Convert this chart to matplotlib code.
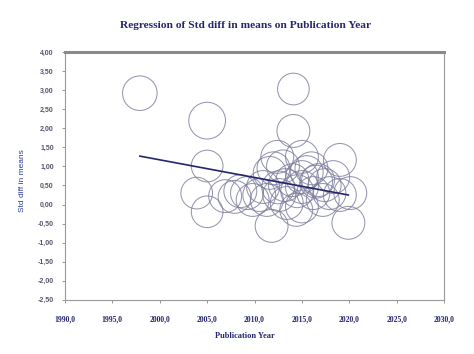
import matplotlib
matplotlib.use("Agg")
import matplotlib.pyplot as plt
from matplotlib.ticker import FuncFormatter

# study points: publication year, std diff in means, weight (bubble size)
years = [1997.9, 2005.0, 2005.0, 2003.9, 2005.0, 2007.9, 2009.2, 2009.8,
         2011.3, 2011.8, 2012.4, 2011.6, 2014.1, 2014.1, 2015.0, 2019.0,
         2018.3, 2020.1, 2019.9, 2015.0, 2015.0, 2016.2, 2010.9, 2013.4,
         2017.2, 2013.2, 2014.0, 2016.7, 2006.9, 2014.4, 2017.4, 2019.0,
         2012.6, 2016.0, 2012.0, 2013.0, 2015.5, 2016.5, 2012.5, 2014.5,
         2010.5, 2008.5, 2017.9, 2015.0]
effects = [2.92, 2.20, 1.01, 0.30, -0.19, 0.20, 0.30, 0.12,
           0.12, -0.56, 1.25, 0.83, 3.03, 1.93, 1.25, 1.17,
           0.72, 0.30, -0.48, 0.72, 0.46, 0.30, 0.46, 0.04,
           0.12, 0.51, 0.64, 0.64, 0.22, -0.14, 0.51, 0.25,
           0.25, 0.95, 0.95, 1.00, 0.85, 0.60, 0.45, 0.35,
           0.25, 0.35, 0.30, -0.05]
weights = [620, 700, 520, 520, 520, 560, 560, 560,
           560, 560, 560, 560, 520, 560, 560, 560,
           560, 560, 560, 560, 560, 560, 560, 560,
           560, 560, 560, 560, 560, 560, 560, 560,
           560, 560, 560, 560, 560, 560, 560, 560,
           560, 560, 560, 560]

# fitted regression line end points
reg_years = [1997.9, 2019.9]
reg_effects = [1.27, 0.25]

navy = "#25256e"
circ = "#7c7c9c"

fig = plt.figure(figsize=(4.74, 3.54), dpi=100)
ax = fig.add_axes([0.137, 0.153, 0.800, 0.700])

ax.scatter(years, effects, s=weights, facecolors="none", edgecolors=circ,
           linewidths=0.75, alpha=0.8)
ax.plot(reg_years, reg_effects, color=navy, linewidth=1.2)

ax.set_xlim(1990, 2030)
ax.set_ylim(-2.5, 4.0)
ax.set_xticks(range(1990, 2031, 5))
ax.set_yticks([v / 2 for v in range(-5, 9)])
comma = FuncFormatter(lambda v, p: f"{v:.2f}".replace(".", ","))
ax.yaxis.set_major_formatter(comma)
ax.xaxis.set_major_formatter(FuncFormatter(lambda v, p: f"{v:.1f}".replace(".", ",")))

for lab in ax.get_xticklabels():
    lab.set_fontfamily("Liberation Serif")
    lab.set_fontweight("bold")
    lab.set_fontsize(5.5)
    lab.set_color(navy)
for lab in ax.get_yticklabels():
    lab.set_fontfamily("Liberation Sans")
    lab.set_fontweight("bold")
    lab.set_fontsize(5)
    lab.set_color("#555570")

ax.tick_params(axis="both", length=2, width=0.6, color="#888888")
ax.tick_params(axis="x", pad=9)
ax.tick_params(axis="y", pad=6)

for side in ["left", "bottom", "right"]:
    ax.spines[side].set_color("#999999")
    ax.spines[side].set_linewidth(0.8)
ax.spines["top"].set_color("#8a8a8a")
ax.spines["top"].set_linewidth(2.2)

fig.text(0.517, 0.928, "Regression of Std diff in means on Publication Year",
         ha="center", va="center", fontsize=8.2, fontweight="bold",
         family="Liberation Serif", color=navy)
fig.text(0.517, 0.052, "Publication Year", ha="center", va="center",
         fontsize=6, fontweight="bold", family="Liberation Serif", color=navy)
fig.text(0.048, 0.49, "Std diff in means", ha="center", va="center",
         rotation=90, fontsize=6, family="Liberation Sans", color="#2e3a9a")

fig.savefig("out.png", dpi=100)
